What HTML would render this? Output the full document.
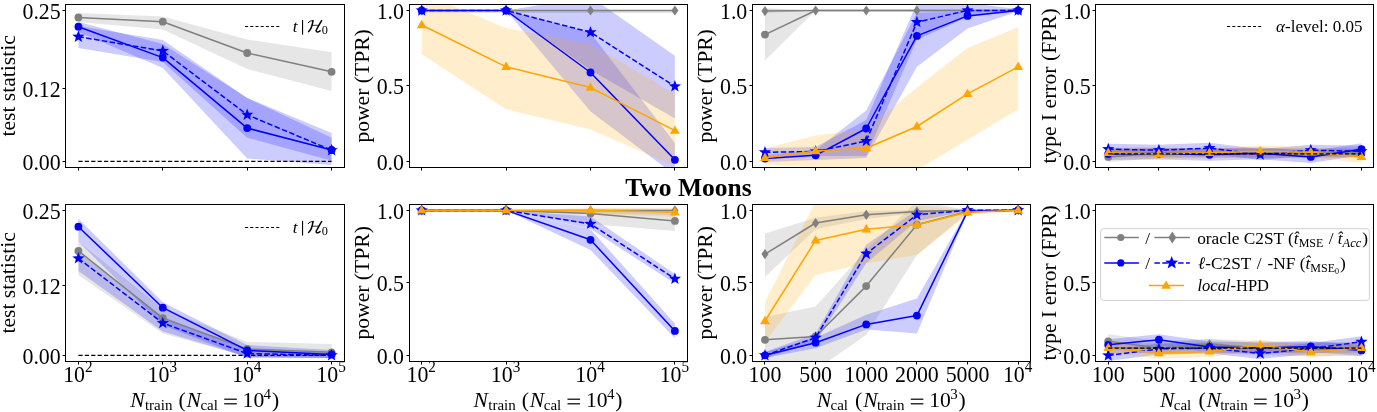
<!DOCTYPE html><html><head><meta charset="utf-8"><style>html,body{margin:0;padding:0;background:#fff;}svg{display:block;will-change:transform;} text{font-family:"Liberation Serif",serif;fill:#000;}</style></head><body>
<svg width="1377" height="412" viewBox="0 0 1377 412">
<defs>
<clipPath id="c00"><rect x="65.75" y="4.40" width="278.50" height="163.00"/></clipPath>
<clipPath id="c01"><rect x="65.75" y="204.40" width="278.50" height="156.90"/></clipPath>
<clipPath id="c10"><rect x="409.03" y="4.40" width="278.50" height="163.00"/></clipPath>
<clipPath id="c11"><rect x="409.03" y="204.40" width="278.50" height="156.90"/></clipPath>
<clipPath id="c20"><rect x="752.31" y="4.40" width="278.50" height="163.00"/></clipPath>
<clipPath id="c21"><rect x="752.31" y="204.40" width="278.50" height="156.90"/></clipPath>
<clipPath id="c30"><rect x="1095.59" y="4.40" width="278.50" height="163.00"/></clipPath>
<clipPath id="c31"><rect x="1095.59" y="204.40" width="278.50" height="156.90"/></clipPath>
</defs>
<g clip-path="url(#c00)">
<polygon points="78.4,13.0 162.8,16.4 247.2,39.6 331.6,52.2 331.6,91.0 247.2,68.9 162.8,29.5 78.4,22.0" fill="#808080" fill-opacity="0.2"/>
<polygon points="78.4,22.0 162.8,44.0 247.2,98.0 331.6,133.0 331.6,164.9 247.2,158.6 162.8,68.0 78.4,32.0" fill="#0000ff" fill-opacity="0.2"/>
<polygon points="78.4,26.0 162.8,40.0 247.2,98.0 331.6,137.7 331.6,160.7 247.2,137.7 162.8,62.0 78.4,48.0" fill="#0000ff" fill-opacity="0.2"/>
<polyline points="78.4,17.5 162.8,21.7 247.2,53.0 331.6,71.8" fill="none" stroke="#808080" stroke-width="1.5" stroke-linejoin="round"/>
<g fill="#808080"><circle cx="78.4" cy="17.5" r="3.9"/><circle cx="162.8" cy="21.7" r="3.9"/><circle cx="247.2" cy="53.0" r="3.9"/><circle cx="331.6" cy="71.8" r="3.9"/></g>
<polyline points="78.4,26.7 162.8,57.6 247.2,128.1 331.6,150.0" fill="none" stroke="#0000ff" stroke-width="1.5" stroke-linejoin="round"/>
<g fill="#0000ff"><circle cx="78.4" cy="26.7" r="3.9"/><circle cx="162.8" cy="57.6" r="3.9"/><circle cx="247.2" cy="128.1" r="3.9"/><circle cx="331.6" cy="150.0" r="3.9"/></g>
<polyline points="78.4,36.7 162.8,50.9 247.2,114.8 331.6,150.2" fill="none" stroke="#0000ff" stroke-width="1.5" stroke-dasharray="5.5,2.4" stroke-linejoin="round"/>
<g fill="#0000ff"><polygon points="78.41,30.30 79.99,34.53 84.50,34.72 80.97,37.53 82.17,41.88 78.41,39.39 74.65,41.88 75.85,37.53 72.32,34.72 76.83,34.53"/><polygon points="162.81,44.50 164.39,48.73 168.90,48.92 165.37,51.73 166.57,56.08 162.81,53.59 159.05,56.08 160.25,51.73 156.72,48.92 161.23,48.73"/><polygon points="247.21,108.40 248.79,112.63 253.30,112.82 249.77,115.63 250.97,119.98 247.21,117.49 243.45,119.98 244.65,115.63 241.12,112.82 245.63,112.63"/><polygon points="331.61,143.80 333.19,148.03 337.70,148.22 334.17,151.03 335.37,155.38 331.61,152.89 327.85,155.38 329.05,151.03 325.52,148.22 330.03,148.03"/></g>
<line x1="78.4" y1="161.3" x2="331.6" y2="161.3" stroke="#000" stroke-width="1.3" stroke-dasharray="4.2,2.2"/>
</g>
<g clip-path="url(#c10)">
<polygon points="421.7,10.5 506.1,10.5 590.5,10.5 674.9,10.5 674.9,13.0 590.5,13.0 506.1,13.0 421.7,13.0" fill="#808080" fill-opacity="0.2"/>
<polygon points="421.7,10.5 506.1,10.5 590.5,33.0 674.9,143.0 674.9,175.0 590.5,111.6 506.1,10.5 421.7,10.5" fill="#0000ff" fill-opacity="0.2"/>
<polygon points="421.7,10.5 506.1,10.5 590.5,-3.4 674.9,55.8 674.9,118.6 590.5,70.0 506.1,10.5 421.7,10.5" fill="#0000ff" fill-opacity="0.2"/>
<polygon points="421.7,-7.1 506.1,28.2 590.5,44.0 674.9,94.0 674.9,166.0 590.5,129.4 506.1,109.3 421.7,54.3" fill="#ffa500" fill-opacity="0.2"/>
<polyline points="421.7,10.5 506.1,10.5 590.5,10.5 674.9,10.5" fill="none" stroke="#808080" stroke-width="1.5" stroke-linejoin="round"/>
<g fill="#808080"><polygon points="421.69,5.40 425.29,10.50 421.69,15.60 418.09,10.50"/><polygon points="506.09,5.40 509.69,10.50 506.09,15.60 502.49,10.50"/><polygon points="590.49,5.40 594.09,10.50 590.49,15.60 586.89,10.50"/><polygon points="674.89,5.40 678.49,10.50 674.89,15.60 671.29,10.50"/></g>
<polyline points="421.7,10.5 506.1,10.5 590.5,72.5 674.9,159.8" fill="none" stroke="#0000ff" stroke-width="1.5" stroke-linejoin="round"/>
<g fill="#0000ff"><circle cx="421.7" cy="10.5" r="3.9"/><circle cx="506.1" cy="10.5" r="3.9"/><circle cx="590.5" cy="72.5" r="3.9"/><circle cx="674.9" cy="159.8" r="3.9"/></g>
<polyline points="421.7,10.5 506.1,10.5 590.5,32.3 674.9,86.4" fill="none" stroke="#0000ff" stroke-width="1.5" stroke-dasharray="5.5,2.4" stroke-linejoin="round"/>
<g fill="#0000ff"><polygon points="421.69,4.10 423.27,8.33 427.78,8.52 424.25,11.33 425.45,15.68 421.69,13.19 417.93,15.68 419.13,11.33 415.60,8.52 420.11,8.33"/><polygon points="506.09,4.10 507.67,8.33 512.18,8.52 508.65,11.33 509.85,15.68 506.09,13.19 502.33,15.68 503.53,11.33 500.00,8.52 504.51,8.33"/><polygon points="590.49,25.90 592.07,30.13 596.58,30.32 593.05,33.13 594.25,37.48 590.49,34.99 586.73,37.48 587.93,33.13 584.40,30.32 588.91,30.13"/><polygon points="674.89,80.00 676.47,84.23 680.98,84.42 677.45,87.23 678.65,91.58 674.89,89.09 671.13,91.58 672.33,87.23 668.80,84.42 673.31,84.23"/></g>
<polyline points="421.7,25.0 506.1,66.8 590.5,87.6 674.9,130.6" fill="none" stroke="#ffa500" stroke-width="1.5" stroke-linejoin="round"/>
<g fill="#ffa500"><polygon points="421.69,19.80 426.63,28.22 416.75,28.22"/><polygon points="506.09,61.60 511.03,70.02 501.15,70.02"/><polygon points="590.49,82.40 595.43,90.82 585.55,90.82"/><polygon points="674.89,125.40 679.83,133.82 669.95,133.82"/></g>
</g>
<g clip-path="url(#c20)">
<polygon points="765.0,8.3 815.6,10.5 866.2,10.5 916.9,10.5 967.5,10.5 1018.2,10.5 1018.2,10.5 967.5,10.5 916.9,10.5 866.2,10.5 815.6,10.5 765.0,60.5" fill="#808080" fill-opacity="0.2"/>
<polygon points="765.0,9.0 815.6,10.5 866.2,10.5 916.9,10.5 967.5,10.5 1018.2,10.5 1018.2,10.5 967.5,10.5 916.9,10.5 866.2,10.5 815.6,10.5 765.0,13.0" fill="#808080" fill-opacity="0.2"/>
<polygon points="765.0,155.0 815.6,150.0 866.2,110.6 916.9,12.8 967.5,11.4 1018.2,9.0 1018.2,11.5 967.5,28.4 916.9,66.7 866.2,158.0 815.6,160.0 765.0,162.0" fill="#0000ff" fill-opacity="0.2"/>
<polygon points="765.0,148.0 815.6,147.0 866.2,120.0 916.9,3.0 967.5,3.0 1018.2,9.0 1018.2,11.5 967.5,17.0 916.9,39.7 866.2,156.0 815.6,156.0 765.0,157.0" fill="#0000ff" fill-opacity="0.2"/>
<polygon points="765.0,148.2 815.6,135.6 866.2,129.4 916.9,87.6 967.5,48.0 1018.2,27.1 1018.2,109.3 967.5,139.8 916.9,170.0 866.2,170.0 815.6,167.0 765.0,164.9" fill="#ffa500" fill-opacity="0.2"/>
<polyline points="765.0,34.6 815.6,10.5 866.2,10.5 916.9,10.5 967.5,10.5 1018.2,10.5" fill="none" stroke="#808080" stroke-width="1.5" stroke-linejoin="round"/>
<g fill="#808080"><circle cx="765.0" cy="34.6" r="3.9"/></g>
<polyline points="765.0,11.1 815.6,10.5 866.2,10.5 916.9,10.5 967.5,10.5 1018.2,10.5" fill="none" stroke="#808080" stroke-width="1.5" stroke-linejoin="round"/>
<g fill="#808080"><polygon points="764.97,6.00 768.57,11.10 764.97,16.20 761.37,11.10"/><polygon points="815.61,5.40 819.21,10.50 815.61,15.60 812.01,10.50"/><polygon points="866.25,5.40 869.85,10.50 866.25,15.60 862.65,10.50"/><polygon points="916.89,5.40 920.49,10.50 916.89,15.60 913.29,10.50"/><polygon points="967.53,5.40 971.13,10.50 967.53,15.60 963.93,10.50"/><polygon points="1018.17,5.40 1021.77,10.50 1018.17,15.60 1014.57,10.50"/></g>
<polyline points="765.0,158.6 815.6,155.3 866.2,128.5 916.9,35.9 967.5,15.9 1018.2,10.5" fill="none" stroke="#0000ff" stroke-width="1.5" stroke-linejoin="round"/>
<g fill="#0000ff"><circle cx="765.0" cy="158.6" r="3.9"/><circle cx="815.6" cy="155.3" r="3.9"/><circle cx="866.2" cy="128.5" r="3.9"/><circle cx="916.9" cy="35.9" r="3.9"/><circle cx="967.5" cy="15.9" r="3.9"/><circle cx="1018.2" cy="10.5" r="3.9"/></g>
<polyline points="765.0,152.3 815.6,151.5 866.2,141.1 916.9,22.1 967.5,10.5 1018.2,10.5" fill="none" stroke="#0000ff" stroke-width="1.5" stroke-dasharray="5.5,2.4" stroke-linejoin="round"/>
<g fill="#0000ff"><polygon points="764.97,145.90 766.55,150.13 771.06,150.32 767.53,153.13 768.73,157.48 764.97,154.99 761.21,157.48 762.41,153.13 758.88,150.32 763.39,150.13"/><polygon points="815.61,145.10 817.19,149.33 821.70,149.52 818.17,152.33 819.37,156.68 815.61,154.19 811.85,156.68 813.05,152.33 809.52,149.52 814.03,149.33"/><polygon points="866.25,134.70 867.83,138.93 872.34,139.12 868.81,141.93 870.01,146.28 866.25,143.79 862.49,146.28 863.69,141.93 860.16,139.12 864.67,138.93"/><polygon points="916.89,15.70 918.47,19.93 922.98,20.12 919.45,22.93 920.65,27.28 916.89,24.79 913.13,27.28 914.33,22.93 910.80,20.12 915.31,19.93"/><polygon points="967.53,4.10 969.11,8.33 973.62,8.52 970.09,11.33 971.29,15.68 967.53,13.19 963.77,15.68 964.97,11.33 961.44,8.52 965.95,8.33"/><polygon points="1018.17,4.10 1019.75,8.33 1024.26,8.52 1020.73,11.33 1021.93,15.68 1018.17,13.19 1014.41,15.68 1015.61,11.33 1012.08,8.52 1016.59,8.33"/></g>
<polyline points="765.0,157.8 815.6,151.1 866.2,148.2 916.9,126.5 967.5,93.9 1018.2,66.8" fill="none" stroke="#ffa500" stroke-width="1.5" stroke-linejoin="round"/>
<g fill="#ffa500"><polygon points="764.97,152.60 769.91,161.02 760.03,161.02"/><polygon points="815.61,145.90 820.55,154.32 810.67,154.32"/><polygon points="866.25,143.00 871.19,151.42 861.31,151.42"/><polygon points="916.89,121.30 921.83,129.72 911.95,129.72"/><polygon points="967.53,88.70 972.47,97.12 962.59,97.12"/><polygon points="1018.17,61.60 1023.11,70.02 1013.23,70.02"/></g>
</g>
<g clip-path="url(#c30)">
<polygon points="1108.2,150.0 1158.9,148.0 1209.5,148.0 1260.2,148.0 1310.8,148.0 1361.5,148.0 1361.5,158.0 1310.8,158.0 1260.2,158.0 1209.5,158.0 1158.9,158.0 1108.2,162.0" fill="#808080" fill-opacity="0.2"/>
<polygon points="1108.2,149.0 1158.9,149.0 1209.5,149.0 1260.2,149.0 1310.8,149.0 1361.5,149.0 1361.5,157.0 1310.8,157.0 1260.2,157.0 1209.5,157.0 1158.9,157.0 1108.2,157.0" fill="#808080" fill-opacity="0.2"/>
<polygon points="1108.2,148.0 1158.9,147.5 1209.5,148.8 1260.2,147.3 1310.8,150.9 1361.5,143.2 1361.5,155.2 1310.8,162.9 1260.2,159.3 1209.5,160.8 1158.9,159.5 1108.2,160.0" fill="#0000ff" fill-opacity="0.2"/>
<polygon points="1108.2,143.7 1158.9,144.7 1209.5,142.7 1260.2,149.0 1310.8,144.7 1361.5,145.8 1361.5,156.8 1310.8,155.7 1260.2,160.0 1209.5,153.7 1158.9,155.7 1108.2,154.7" fill="#0000ff" fill-opacity="0.2"/>
<polygon points="1108.2,147.3 1158.9,148.3 1209.5,147.3 1260.2,145.8 1310.8,146.8 1361.5,151.4 1361.5,162.4 1310.8,157.8 1260.2,156.8 1209.5,158.3 1158.9,159.3 1108.2,158.3" fill="#ffa500" fill-opacity="0.2"/>
<polyline points="1108.2,156.9 1158.9,153.0 1209.5,153.0 1260.2,153.0 1310.8,153.0 1361.5,153.0" fill="none" stroke="#808080" stroke-width="1.5" stroke-linejoin="round"/>
<g fill="#808080"><circle cx="1108.2" cy="156.9" r="3.9"/><circle cx="1158.9" cy="153.0" r="3.9"/><circle cx="1209.5" cy="153.0" r="3.9"/><circle cx="1260.2" cy="153.0" r="3.9"/><circle cx="1310.8" cy="153.0" r="3.9"/><circle cx="1361.5" cy="153.0" r="3.9"/></g>
<polyline points="1108.2,153.0 1158.9,153.0 1209.5,153.0 1260.2,153.0 1310.8,153.0 1361.5,153.0" fill="none" stroke="#808080" stroke-width="1.5" stroke-linejoin="round"/>
<g fill="#808080"><polygon points="1108.25,147.90 1111.85,153.00 1108.25,158.10 1104.65,153.00"/><polygon points="1158.89,147.90 1162.49,153.00 1158.89,158.10 1155.29,153.00"/><polygon points="1209.53,147.90 1213.13,153.00 1209.53,158.10 1205.93,153.00"/><polygon points="1260.17,147.90 1263.77,153.00 1260.17,158.10 1256.57,153.00"/><polygon points="1310.81,147.90 1314.41,153.00 1310.81,158.10 1307.21,153.00"/><polygon points="1361.45,147.90 1365.05,153.00 1361.45,158.10 1357.85,153.00"/></g>
<polyline points="1108.2,154.0 1158.9,153.5 1209.5,154.8 1260.2,153.3 1310.8,156.9 1361.5,149.2" fill="none" stroke="#0000ff" stroke-width="1.5" stroke-linejoin="round"/>
<g fill="#0000ff"><circle cx="1108.2" cy="154.0" r="3.9"/><circle cx="1158.9" cy="153.5" r="3.9"/><circle cx="1209.5" cy="154.8" r="3.9"/><circle cx="1260.2" cy="153.3" r="3.9"/><circle cx="1310.8" cy="156.9" r="3.9"/><circle cx="1361.5" cy="149.2" r="3.9"/></g>
<polyline points="1108.2,149.2 1158.9,150.2 1209.5,148.2 1260.2,154.5 1310.8,150.2 1361.5,151.3" fill="none" stroke="#0000ff" stroke-width="1.5" stroke-dasharray="5.5,2.4" stroke-linejoin="round"/>
<g fill="#0000ff"><polygon points="1108.25,142.80 1109.83,147.03 1114.34,147.22 1110.81,150.03 1112.01,154.38 1108.25,151.89 1104.49,154.38 1105.69,150.03 1102.16,147.22 1106.67,147.03"/><polygon points="1158.89,143.80 1160.47,148.03 1164.98,148.22 1161.45,151.03 1162.65,155.38 1158.89,152.89 1155.13,155.38 1156.33,151.03 1152.80,148.22 1157.31,148.03"/><polygon points="1209.53,141.80 1211.11,146.03 1215.62,146.22 1212.09,149.03 1213.29,153.38 1209.53,150.89 1205.77,153.38 1206.97,149.03 1203.44,146.22 1207.95,146.03"/><polygon points="1260.17,148.10 1261.75,152.33 1266.26,152.52 1262.73,155.33 1263.93,159.68 1260.17,157.19 1256.41,159.68 1257.61,155.33 1254.08,152.52 1258.59,152.33"/><polygon points="1310.81,143.80 1312.39,148.03 1316.90,148.22 1313.37,151.03 1314.57,155.38 1310.81,152.89 1307.05,155.38 1308.25,151.03 1304.72,148.22 1309.23,148.03"/><polygon points="1361.45,144.90 1363.03,149.13 1367.54,149.32 1364.01,152.13 1365.21,156.48 1361.45,153.99 1357.69,156.48 1358.89,152.13 1355.36,149.32 1359.87,149.13"/></g>
<polyline points="1108.2,152.8 1158.9,153.8 1209.5,152.8 1260.2,151.3 1310.8,152.3 1361.5,156.9" fill="none" stroke="#ffa500" stroke-width="1.5" stroke-linejoin="round"/>
<g fill="#ffa500"><polygon points="1108.25,147.60 1113.19,156.02 1103.31,156.02"/><polygon points="1158.89,148.60 1163.83,157.02 1153.95,157.02"/><polygon points="1209.53,147.60 1214.47,156.02 1204.59,156.02"/><polygon points="1260.17,146.10 1265.11,154.52 1255.23,154.52"/><polygon points="1310.81,147.10 1315.75,155.52 1305.87,155.52"/><polygon points="1361.45,151.70 1366.39,160.12 1356.51,160.12"/></g>
<line x1="1108.2" y1="153.8" x2="1361.5" y2="153.8" stroke="#000" stroke-width="1.3" stroke-dasharray="4.2,2.2"/>
</g>
<g clip-path="url(#c01)">
<polygon points="78.4,241.7 162.8,308.5 247.2,341.9 331.6,344.0 331.6,358.6 247.2,356.5 162.8,333.6 78.4,275.1" fill="#808080" fill-opacity="0.2"/>
<polygon points="78.4,218.8 162.8,302.3 247.2,345.0 331.6,350.0 331.6,358.0 247.2,358.0 162.8,325.2 78.4,241.7" fill="#0000ff" fill-opacity="0.2"/>
<polygon points="78.4,252.2 162.8,316.9 247.2,350.0 331.6,352.0 331.6,358.0 247.2,357.0 162.8,331.5 78.4,271.0" fill="#0000ff" fill-opacity="0.2"/>
<polyline points="78.4,250.9 162.8,318.1 247.2,349.0 331.6,352.3" fill="none" stroke="#808080" stroke-width="1.5" stroke-linejoin="round"/>
<g fill="#808080"><circle cx="78.4" cy="250.9" r="3.9"/><circle cx="162.8" cy="318.1" r="3.9"/><circle cx="247.2" cy="349.0" r="3.9"/><circle cx="331.6" cy="352.3" r="3.9"/></g>
<polyline points="78.4,226.7 162.8,307.7 247.2,350.3 331.6,354.4" fill="none" stroke="#0000ff" stroke-width="1.5" stroke-linejoin="round"/>
<g fill="#0000ff"><circle cx="78.4" cy="226.7" r="3.9"/><circle cx="162.8" cy="307.7" r="3.9"/><circle cx="247.2" cy="350.3" r="3.9"/><circle cx="331.6" cy="354.4" r="3.9"/></g>
<polyline points="78.4,258.4 162.8,323.1 247.2,353.6 331.6,355.3" fill="none" stroke="#0000ff" stroke-width="1.5" stroke-dasharray="5.5,2.4" stroke-linejoin="round"/>
<g fill="#0000ff"><polygon points="78.41,252.00 79.99,256.23 84.50,256.42 80.97,259.23 82.17,263.58 78.41,261.09 74.65,263.58 75.85,259.23 72.32,256.42 76.83,256.23"/><polygon points="162.81,316.70 164.39,320.93 168.90,321.12 165.37,323.93 166.57,328.28 162.81,325.79 159.05,328.28 160.25,323.93 156.72,321.12 161.23,320.93"/><polygon points="247.21,347.20 248.79,351.43 253.30,351.62 249.77,354.43 250.97,358.78 247.21,356.29 243.45,358.78 244.65,354.43 241.12,351.62 245.63,351.43"/><polygon points="331.61,348.90 333.19,353.13 337.70,353.32 334.17,356.13 335.37,360.48 331.61,357.99 327.85,360.48 329.05,356.13 325.52,353.32 330.03,353.13"/></g>
<line x1="78.4" y1="355.4" x2="331.6" y2="355.4" stroke="#000" stroke-width="1.3" stroke-dasharray="4.2,2.2"/>
</g>
<g clip-path="url(#c11)">
<polygon points="421.7,210.4 506.1,210.4 590.5,210.2 674.9,213.5 674.9,230.9 590.5,223.9 506.1,210.4 421.7,210.4" fill="#808080" fill-opacity="0.2"/>
<polygon points="421.7,210.4 506.1,210.4 590.5,209.0 674.9,209.0 674.9,215.0 590.5,213.0 506.1,210.4 421.7,210.4" fill="#808080" fill-opacity="0.2"/>
<polygon points="421.7,210.4 506.1,210.4 590.5,229.3 674.9,323.7 674.9,338.3 590.5,250.0 506.1,210.4 421.7,210.4" fill="#0000ff" fill-opacity="0.2"/>
<polygon points="421.7,210.4 506.1,210.4 590.5,216.5 674.9,274.0 674.9,283.5 590.5,229.0 506.1,210.4 421.7,210.4" fill="#0000ff" fill-opacity="0.2"/>
<polygon points="421.7,210.4 506.1,210.4 590.5,208.0 674.9,208.0 674.9,217.0 590.5,214.0 506.1,210.4 421.7,210.4" fill="#ffa500" fill-opacity="0.2"/>
<polyline points="421.7,210.4 506.1,210.4 590.5,213.5 674.9,220.9" fill="none" stroke="#808080" stroke-width="1.5" stroke-linejoin="round"/>
<g fill="#808080"><circle cx="421.7" cy="210.4" r="3.9"/><circle cx="506.1" cy="210.4" r="3.9"/><circle cx="590.5" cy="213.5" r="3.9"/><circle cx="674.9" cy="220.9" r="3.9"/></g>
<polyline points="421.7,210.4 506.1,210.4 590.5,210.4 674.9,210.4" fill="none" stroke="#808080" stroke-width="1.5" stroke-linejoin="round"/>
<g fill="#808080"><polygon points="421.69,205.30 425.29,210.40 421.69,215.50 418.09,210.40"/><polygon points="506.09,205.30 509.69,210.40 506.09,215.50 502.49,210.40"/><polygon points="590.49,205.30 594.09,210.40 590.49,215.50 586.89,210.40"/><polygon points="674.89,205.30 678.49,210.40 674.89,215.50 671.29,210.40"/></g>
<polyline points="421.7,210.4 506.1,210.4 590.5,239.8 674.9,330.9" fill="none" stroke="#0000ff" stroke-width="1.5" stroke-linejoin="round"/>
<g fill="#0000ff"><circle cx="421.7" cy="210.4" r="3.9"/><circle cx="506.1" cy="210.4" r="3.9"/><circle cx="590.5" cy="239.8" r="3.9"/><circle cx="674.9" cy="330.9" r="3.9"/></g>
<polyline points="421.7,210.4 506.1,210.4 590.5,223.9 674.9,278.8" fill="none" stroke="#0000ff" stroke-width="1.5" stroke-dasharray="5.5,2.4" stroke-linejoin="round"/>
<g fill="#0000ff"><polygon points="421.69,204.00 423.27,208.23 427.78,208.42 424.25,211.23 425.45,215.58 421.69,213.09 417.93,215.58 419.13,211.23 415.60,208.42 420.11,208.23"/><polygon points="506.09,204.00 507.67,208.23 512.18,208.42 508.65,211.23 509.85,215.58 506.09,213.09 502.33,215.58 503.53,211.23 500.00,208.42 504.51,208.23"/><polygon points="590.49,217.50 592.07,221.73 596.58,221.92 593.05,224.73 594.25,229.08 590.49,226.59 586.73,229.08 587.93,224.73 584.40,221.92 588.91,221.73"/><polygon points="674.89,272.40 676.47,276.63 680.98,276.82 677.45,279.63 678.65,283.98 674.89,281.49 671.13,283.98 672.33,279.63 668.80,276.82 673.31,276.63"/></g>
<polyline points="421.7,210.4 506.1,210.4 590.5,210.2 674.9,212.3" fill="none" stroke="#ffa500" stroke-width="1.5" stroke-linejoin="round"/>
<g fill="#ffa500"><polygon points="421.69,205.20 426.63,213.62 416.75,213.62"/><polygon points="506.09,205.20 511.03,213.62 501.15,213.62"/><polygon points="590.49,205.00 595.43,213.42 585.55,213.42"/><polygon points="674.89,207.10 679.83,215.52 669.95,215.52"/></g>
</g>
<g clip-path="url(#c21)">
<polygon points="765.0,316.9 815.6,306.4 866.2,250.0 916.9,201.1 967.5,210.0 1018.2,210.0 1018.2,211.0 967.5,213.0 916.9,255.0 866.2,335.0 815.6,370.0 765.0,370.0" fill="#808080" fill-opacity="0.2"/>
<polygon points="765.0,233.4 815.6,217.7 866.2,211.0 916.9,210.0 967.5,210.0 1018.2,210.0 1018.2,211.0 967.5,211.0 916.9,213.0 866.2,218.9 815.6,229.3 765.0,276.9" fill="#808080" fill-opacity="0.2"/>
<polygon points="765.0,352.0 815.6,337.7 866.2,314.8 916.9,298.5 967.5,210.0 1018.2,210.0 1018.2,211.0 967.5,213.0 916.9,333.6 866.2,329.4 815.6,348.2 765.0,358.0" fill="#0000ff" fill-opacity="0.2"/>
<polygon points="765.0,352.0 815.6,333.6 866.2,244.6 916.9,210.0 967.5,210.0 1018.2,210.0 1018.2,211.0 967.5,211.0 916.9,220.9 866.2,263.2 815.6,341.9 765.0,358.0" fill="#0000ff" fill-opacity="0.2"/>
<polygon points="765.0,302.3 815.6,201.1 866.2,201.1 916.9,206.0 967.5,210.0 1018.2,210.0 1018.2,211.0 967.5,215.0 916.9,255.0 866.2,263.2 815.6,274.9 765.0,341.9" fill="#ffa500" fill-opacity="0.2"/>
<polyline points="765.0,339.8 815.6,336.5 866.2,286.1 916.9,224.7 967.5,211.4 1018.2,210.2" fill="none" stroke="#808080" stroke-width="1.5" stroke-linejoin="round"/>
<g fill="#808080"><circle cx="765.0" cy="339.8" r="3.9"/><circle cx="815.6" cy="336.5" r="3.9"/><circle cx="866.2" cy="286.1" r="3.9"/><circle cx="916.9" cy="224.7" r="3.9"/><circle cx="967.5" cy="211.4" r="3.9"/><circle cx="1018.2" cy="210.2" r="3.9"/></g>
<polyline points="765.0,254.1 815.6,223.0 866.2,214.8 916.9,211.4 967.5,210.2 1018.2,210.2" fill="none" stroke="#808080" stroke-width="1.5" stroke-linejoin="round"/>
<g fill="#808080"><polygon points="764.97,249.00 768.57,254.10 764.97,259.20 761.37,254.10"/><polygon points="815.61,217.90 819.21,223.00 815.61,228.10 812.01,223.00"/><polygon points="866.25,209.70 869.85,214.80 866.25,219.90 862.65,214.80"/><polygon points="916.89,206.30 920.49,211.40 916.89,216.50 913.29,211.40"/><polygon points="967.53,205.10 971.13,210.20 967.53,215.30 963.93,210.20"/><polygon points="1018.17,205.10 1021.77,210.20 1018.17,215.30 1014.57,210.20"/></g>
<polyline points="765.0,355.3 815.6,342.7 866.2,324.4 916.9,315.6 967.5,211.4 1018.2,210.2" fill="none" stroke="#0000ff" stroke-width="1.5" stroke-linejoin="round"/>
<g fill="#0000ff"><circle cx="765.0" cy="355.3" r="3.9"/><circle cx="815.6" cy="342.7" r="3.9"/><circle cx="866.2" cy="324.4" r="3.9"/><circle cx="916.9" cy="315.6" r="3.9"/><circle cx="967.5" cy="211.4" r="3.9"/><circle cx="1018.2" cy="210.2" r="3.9"/></g>
<polyline points="765.0,355.3 815.6,337.7 866.2,253.7 916.9,214.8 967.5,210.2 1018.2,210.2" fill="none" stroke="#0000ff" stroke-width="1.5" stroke-dasharray="5.5,2.4" stroke-linejoin="round"/>
<g fill="#0000ff"><polygon points="764.97,348.90 766.55,353.13 771.06,353.32 767.53,356.13 768.73,360.48 764.97,357.99 761.21,360.48 762.41,356.13 758.88,353.32 763.39,353.13"/><polygon points="815.61,331.30 817.19,335.53 821.70,335.72 818.17,338.53 819.37,342.88 815.61,340.39 811.85,342.88 813.05,338.53 809.52,335.72 814.03,335.53"/><polygon points="866.25,247.30 867.83,251.53 872.34,251.72 868.81,254.53 870.01,258.88 866.25,256.39 862.49,258.88 863.69,254.53 860.16,251.72 864.67,251.53"/><polygon points="916.89,208.40 918.47,212.63 922.98,212.82 919.45,215.63 920.65,219.98 916.89,217.49 913.13,219.98 914.33,215.63 910.80,212.82 915.31,212.63"/><polygon points="967.53,203.80 969.11,208.03 973.62,208.22 970.09,211.03 971.29,215.38 967.53,212.89 963.77,215.38 964.97,211.03 961.44,208.22 965.95,208.03"/><polygon points="1018.17,203.80 1019.75,208.03 1024.26,208.22 1020.73,211.03 1021.93,215.38 1018.17,212.89 1014.41,215.38 1015.61,211.03 1012.08,208.22 1016.59,208.03"/></g>
<polyline points="765.0,321.0 815.6,240.4 866.2,229.3 916.9,224.7 967.5,212.3 1018.2,210.2" fill="none" stroke="#ffa500" stroke-width="1.5" stroke-linejoin="round"/>
<g fill="#ffa500"><polygon points="764.97,315.80 769.91,324.22 760.03,324.22"/><polygon points="815.61,235.20 820.55,243.62 810.67,243.62"/><polygon points="866.25,224.10 871.19,232.52 861.31,232.52"/><polygon points="916.89,219.50 921.83,227.92 911.95,227.92"/><polygon points="967.53,207.10 972.47,215.52 962.59,215.52"/><polygon points="1018.17,205.00 1023.11,213.42 1013.23,213.42"/></g>
</g>
<g clip-path="url(#c31)">
<polygon points="1108.2,334.3 1158.9,341.0 1209.5,339.0 1260.2,341.0 1310.8,342.0 1361.5,342.0 1361.5,356.0 1310.8,356.0 1260.2,355.0 1209.5,353.0 1158.9,355.0 1108.2,348.3" fill="#808080" fill-opacity="0.2"/>
<polygon points="1108.2,343.0 1158.9,343.0 1209.5,339.3 1260.2,343.0 1310.8,343.0 1361.5,343.0 1361.5,353.0 1310.8,353.0 1260.2,353.0 1209.5,349.3 1158.9,353.0 1108.2,353.0" fill="#808080" fill-opacity="0.2"/>
<polygon points="1108.2,339.3 1158.9,334.2 1209.5,341.4 1260.2,342.5 1310.8,341.0 1361.5,344.9 1361.5,355.9 1310.8,352.0 1260.2,353.5 1209.5,352.4 1158.9,345.2 1108.2,350.3" fill="#0000ff" fill-opacity="0.2"/>
<polygon points="1108.2,350.0 1158.9,343.4 1209.5,342.5 1260.2,348.0 1310.8,343.0 1361.5,336.3 1361.5,347.3 1310.8,354.0 1260.2,359.0 1209.5,353.5 1158.9,354.4 1108.2,361.0" fill="#0000ff" fill-opacity="0.2"/>
<polygon points="1108.2,342.4 1158.9,347.5 1209.5,345.9 1260.2,339.8 1310.8,346.5 1361.5,342.4 1361.5,353.4 1310.8,357.5 1260.2,350.8 1209.5,356.9 1158.9,358.5 1108.2,353.4" fill="#ffa500" fill-opacity="0.2"/>
<polyline points="1108.2,341.3 1158.9,348.0 1209.5,346.0 1260.2,348.0 1310.8,349.0 1361.5,349.0" fill="none" stroke="#808080" stroke-width="1.5" stroke-linejoin="round"/>
<g fill="#808080"><circle cx="1108.2" cy="341.3" r="3.9"/><circle cx="1158.9" cy="348.0" r="3.9"/><circle cx="1209.5" cy="346.0" r="3.9"/><circle cx="1260.2" cy="348.0" r="3.9"/><circle cx="1310.8" cy="349.0" r="3.9"/><circle cx="1361.5" cy="349.0" r="3.9"/></g>
<polyline points="1108.2,348.0 1158.9,348.0 1209.5,344.3 1260.2,348.0 1310.8,348.0 1361.5,348.0" fill="none" stroke="#808080" stroke-width="1.5" stroke-linejoin="round"/>
<g fill="#808080"><polygon points="1108.25,342.90 1111.85,348.00 1108.25,353.10 1104.65,348.00"/><polygon points="1158.89,342.90 1162.49,348.00 1158.89,353.10 1155.29,348.00"/><polygon points="1209.53,339.20 1213.13,344.30 1209.53,349.40 1205.93,344.30"/><polygon points="1260.17,342.90 1263.77,348.00 1260.17,353.10 1256.57,348.00"/><polygon points="1310.81,342.90 1314.41,348.00 1310.81,353.10 1307.21,348.00"/><polygon points="1361.45,342.90 1365.05,348.00 1361.45,353.10 1357.85,348.00"/></g>
<polyline points="1108.2,344.8 1158.9,339.7 1209.5,346.9 1260.2,348.0 1310.8,346.5 1361.5,350.4" fill="none" stroke="#0000ff" stroke-width="1.5" stroke-linejoin="round"/>
<g fill="#0000ff"><circle cx="1108.2" cy="344.8" r="3.9"/><circle cx="1158.9" cy="339.7" r="3.9"/><circle cx="1209.5" cy="346.9" r="3.9"/><circle cx="1260.2" cy="348.0" r="3.9"/><circle cx="1310.8" cy="346.5" r="3.9"/><circle cx="1361.5" cy="350.4" r="3.9"/></g>
<polyline points="1108.2,355.5 1158.9,348.9 1209.5,348.0 1260.2,353.5 1310.8,348.5 1361.5,341.8" fill="none" stroke="#0000ff" stroke-width="1.5" stroke-dasharray="5.5,2.4" stroke-linejoin="round"/>
<g fill="#0000ff"><polygon points="1108.25,349.10 1109.83,353.33 1114.34,353.52 1110.81,356.33 1112.01,360.68 1108.25,358.19 1104.49,360.68 1105.69,356.33 1102.16,353.52 1106.67,353.33"/><polygon points="1158.89,342.50 1160.47,346.73 1164.98,346.92 1161.45,349.73 1162.65,354.08 1158.89,351.59 1155.13,354.08 1156.33,349.73 1152.80,346.92 1157.31,346.73"/><polygon points="1209.53,341.60 1211.11,345.83 1215.62,346.02 1212.09,348.83 1213.29,353.18 1209.53,350.69 1205.77,353.18 1206.97,348.83 1203.44,346.02 1207.95,345.83"/><polygon points="1260.17,347.10 1261.75,351.33 1266.26,351.52 1262.73,354.33 1263.93,358.68 1260.17,356.19 1256.41,358.68 1257.61,354.33 1254.08,351.52 1258.59,351.33"/><polygon points="1310.81,342.10 1312.39,346.33 1316.90,346.52 1313.37,349.33 1314.57,353.68 1310.81,351.19 1307.05,353.68 1308.25,349.33 1304.72,346.52 1309.23,346.33"/><polygon points="1361.45,335.40 1363.03,339.63 1367.54,339.82 1364.01,342.63 1365.21,346.98 1361.45,344.49 1357.69,346.98 1358.89,342.63 1355.36,339.82 1359.87,339.63"/></g>
<polyline points="1108.2,347.9 1158.9,353.0 1209.5,351.4 1260.2,345.3 1310.8,352.0 1361.5,347.9" fill="none" stroke="#ffa500" stroke-width="1.5" stroke-linejoin="round"/>
<g fill="#ffa500"><polygon points="1108.25,342.70 1113.19,351.12 1103.31,351.12"/><polygon points="1158.89,347.80 1163.83,356.22 1153.95,356.22"/><polygon points="1209.53,346.20 1214.47,354.62 1204.59,354.62"/><polygon points="1260.17,340.10 1265.11,348.52 1255.23,348.52"/><polygon points="1310.81,346.80 1315.75,355.22 1305.87,355.22"/><polygon points="1361.45,342.70 1366.39,351.12 1356.51,351.12"/></g>
<line x1="1108.2" y1="348.1" x2="1361.5" y2="348.1" stroke="#000" stroke-width="1.3" stroke-dasharray="4.2,2.2"/>
</g>
<rect x="65.50" y="4.50" width="279.00" height="163.00" fill="none" stroke="#000" stroke-width="1"/>
<line x1="62.50" y1="161.50" x2="65.50" y2="161.50" stroke="#000" stroke-width="1"/>
<text transform="translate(60.75,169.55) scale(1,1.08)" font-size="21.9" text-anchor="end">0.00</text>
<line x1="62.50" y1="88.50" x2="65.50" y2="88.50" stroke="#000" stroke-width="1"/>
<text transform="translate(60.75,97.14) scale(1,1.08)" font-size="21.9" text-anchor="end">0.12</text>
<line x1="62.50" y1="10.50" x2="65.50" y2="10.50" stroke="#000" stroke-width="1"/>
<text transform="translate(60.75,18.70) scale(1,1.08)" font-size="21.9" text-anchor="end">0.25</text>
<line x1="78.50" y1="167.50" x2="78.50" y2="170.50" stroke="#000" stroke-width="1"/>
<line x1="162.50" y1="167.50" x2="162.50" y2="170.50" stroke="#000" stroke-width="1"/>
<line x1="247.50" y1="167.50" x2="247.50" y2="170.50" stroke="#000" stroke-width="1"/>
<line x1="331.50" y1="167.50" x2="331.50" y2="170.50" stroke="#000" stroke-width="1"/>
<text transform="translate(15.45,85.90) rotate(-90)" font-size="21.6" text-anchor="middle">test statistic</text>
<rect x="409.50" y="4.50" width="278.00" height="163.00" fill="none" stroke="#000" stroke-width="1"/>
<line x1="406.50" y1="161.50" x2="409.50" y2="161.50" stroke="#000" stroke-width="1"/>
<text transform="translate(404.03,169.55) scale(1,1.08)" font-size="21.9" text-anchor="end">0.0</text>
<line x1="406.50" y1="85.50" x2="409.50" y2="85.50" stroke="#000" stroke-width="1"/>
<text transform="translate(404.03,94.12) scale(1,1.08)" font-size="21.9" text-anchor="end">0.5</text>
<line x1="406.50" y1="10.50" x2="409.50" y2="10.50" stroke="#000" stroke-width="1"/>
<text transform="translate(404.03,18.70) scale(1,1.08)" font-size="21.9" text-anchor="end">1.0</text>
<line x1="421.50" y1="167.50" x2="421.50" y2="170.50" stroke="#000" stroke-width="1"/>
<line x1="506.50" y1="167.50" x2="506.50" y2="170.50" stroke="#000" stroke-width="1"/>
<line x1="590.50" y1="167.50" x2="590.50" y2="170.50" stroke="#000" stroke-width="1"/>
<line x1="674.50" y1="167.50" x2="674.50" y2="170.50" stroke="#000" stroke-width="1"/>
<text transform="translate(369.03,85.90) rotate(-90)" font-size="21.6" text-anchor="middle">power (TPR)</text>
<rect x="752.50" y="4.50" width="278.00" height="163.00" fill="none" stroke="#000" stroke-width="1"/>
<line x1="749.50" y1="161.50" x2="752.50" y2="161.50" stroke="#000" stroke-width="1"/>
<text transform="translate(747.31,169.55) scale(1,1.08)" font-size="21.9" text-anchor="end">0.0</text>
<line x1="749.50" y1="85.50" x2="752.50" y2="85.50" stroke="#000" stroke-width="1"/>
<text transform="translate(747.31,94.12) scale(1,1.08)" font-size="21.9" text-anchor="end">0.5</text>
<line x1="749.50" y1="10.50" x2="752.50" y2="10.50" stroke="#000" stroke-width="1"/>
<text transform="translate(747.31,18.70) scale(1,1.08)" font-size="21.9" text-anchor="end">1.0</text>
<line x1="764.50" y1="167.50" x2="764.50" y2="170.50" stroke="#000" stroke-width="1"/>
<line x1="815.50" y1="167.50" x2="815.50" y2="170.50" stroke="#000" stroke-width="1"/>
<line x1="866.50" y1="167.50" x2="866.50" y2="170.50" stroke="#000" stroke-width="1"/>
<line x1="916.50" y1="167.50" x2="916.50" y2="170.50" stroke="#000" stroke-width="1"/>
<line x1="967.50" y1="167.50" x2="967.50" y2="170.50" stroke="#000" stroke-width="1"/>
<line x1="1018.50" y1="167.50" x2="1018.50" y2="170.50" stroke="#000" stroke-width="1"/>
<text transform="translate(712.31,85.90) rotate(-90)" font-size="21.6" text-anchor="middle">power (TPR)</text>
<rect x="1095.50" y="4.50" width="278.00" height="163.00" fill="none" stroke="#000" stroke-width="1"/>
<line x1="1092.50" y1="161.50" x2="1095.50" y2="161.50" stroke="#000" stroke-width="1"/>
<text transform="translate(1090.59,169.55) scale(1,1.08)" font-size="21.9" text-anchor="end">0.0</text>
<line x1="1092.50" y1="85.50" x2="1095.50" y2="85.50" stroke="#000" stroke-width="1"/>
<text transform="translate(1090.59,94.12) scale(1,1.08)" font-size="21.9" text-anchor="end">0.5</text>
<line x1="1092.50" y1="10.50" x2="1095.50" y2="10.50" stroke="#000" stroke-width="1"/>
<text transform="translate(1090.59,18.70) scale(1,1.08)" font-size="21.9" text-anchor="end">1.0</text>
<line x1="1108.50" y1="167.50" x2="1108.50" y2="170.50" stroke="#000" stroke-width="1"/>
<line x1="1158.50" y1="167.50" x2="1158.50" y2="170.50" stroke="#000" stroke-width="1"/>
<line x1="1209.50" y1="167.50" x2="1209.50" y2="170.50" stroke="#000" stroke-width="1"/>
<line x1="1260.50" y1="167.50" x2="1260.50" y2="170.50" stroke="#000" stroke-width="1"/>
<line x1="1310.50" y1="167.50" x2="1310.50" y2="170.50" stroke="#000" stroke-width="1"/>
<line x1="1361.50" y1="167.50" x2="1361.50" y2="170.50" stroke="#000" stroke-width="1"/>
<text transform="translate(1055.59,85.90) rotate(-90)" font-size="21.6" text-anchor="middle">type I error (FPR)</text>
<rect x="65.50" y="204.50" width="279.00" height="157.00" fill="none" stroke="#000" stroke-width="1"/>
<line x1="62.50" y1="355.50" x2="65.50" y2="355.50" stroke="#000" stroke-width="1"/>
<text transform="translate(60.75,363.60) scale(1,1.08)" font-size="21.9" text-anchor="end">0.00</text>
<line x1="62.50" y1="285.50" x2="65.50" y2="285.50" stroke="#000" stroke-width="1"/>
<text transform="translate(60.75,294.00) scale(1,1.08)" font-size="21.9" text-anchor="end">0.12</text>
<line x1="62.50" y1="210.50" x2="65.50" y2="210.50" stroke="#000" stroke-width="1"/>
<text transform="translate(60.75,218.60) scale(1,1.08)" font-size="21.9" text-anchor="end">0.25</text>
<line x1="78.50" y1="361.50" x2="78.50" y2="364.50" stroke="#000" stroke-width="1"/>
<line x1="162.50" y1="361.50" x2="162.50" y2="364.50" stroke="#000" stroke-width="1"/>
<line x1="247.50" y1="361.50" x2="247.50" y2="364.50" stroke="#000" stroke-width="1"/>
<line x1="331.50" y1="361.50" x2="331.50" y2="364.50" stroke="#000" stroke-width="1"/>
<text transform="translate(15.45,282.85) rotate(-90)" font-size="21.6" text-anchor="middle">test statistic</text>
<rect x="409.50" y="204.50" width="278.00" height="157.00" fill="none" stroke="#000" stroke-width="1"/>
<line x1="406.50" y1="355.50" x2="409.50" y2="355.50" stroke="#000" stroke-width="1"/>
<text transform="translate(404.03,363.60) scale(1,1.08)" font-size="21.9" text-anchor="end">0.0</text>
<line x1="406.50" y1="282.50" x2="409.50" y2="282.50" stroke="#000" stroke-width="1"/>
<text transform="translate(404.03,291.10) scale(1,1.08)" font-size="21.9" text-anchor="end">0.5</text>
<line x1="406.50" y1="210.50" x2="409.50" y2="210.50" stroke="#000" stroke-width="1"/>
<text transform="translate(404.03,218.60) scale(1,1.08)" font-size="21.9" text-anchor="end">1.0</text>
<line x1="421.50" y1="361.50" x2="421.50" y2="364.50" stroke="#000" stroke-width="1"/>
<line x1="506.50" y1="361.50" x2="506.50" y2="364.50" stroke="#000" stroke-width="1"/>
<line x1="590.50" y1="361.50" x2="590.50" y2="364.50" stroke="#000" stroke-width="1"/>
<line x1="674.50" y1="361.50" x2="674.50" y2="364.50" stroke="#000" stroke-width="1"/>
<text transform="translate(369.03,282.85) rotate(-90)" font-size="21.6" text-anchor="middle">power (TPR)</text>
<rect x="752.50" y="204.50" width="278.00" height="157.00" fill="none" stroke="#000" stroke-width="1"/>
<line x1="749.50" y1="355.50" x2="752.50" y2="355.50" stroke="#000" stroke-width="1"/>
<text transform="translate(747.31,363.60) scale(1,1.08)" font-size="21.9" text-anchor="end">0.0</text>
<line x1="749.50" y1="282.50" x2="752.50" y2="282.50" stroke="#000" stroke-width="1"/>
<text transform="translate(747.31,291.10) scale(1,1.08)" font-size="21.9" text-anchor="end">0.5</text>
<line x1="749.50" y1="210.50" x2="752.50" y2="210.50" stroke="#000" stroke-width="1"/>
<text transform="translate(747.31,218.60) scale(1,1.08)" font-size="21.9" text-anchor="end">1.0</text>
<line x1="764.50" y1="361.50" x2="764.50" y2="364.50" stroke="#000" stroke-width="1"/>
<line x1="815.50" y1="361.50" x2="815.50" y2="364.50" stroke="#000" stroke-width="1"/>
<line x1="866.50" y1="361.50" x2="866.50" y2="364.50" stroke="#000" stroke-width="1"/>
<line x1="916.50" y1="361.50" x2="916.50" y2="364.50" stroke="#000" stroke-width="1"/>
<line x1="967.50" y1="361.50" x2="967.50" y2="364.50" stroke="#000" stroke-width="1"/>
<line x1="1018.50" y1="361.50" x2="1018.50" y2="364.50" stroke="#000" stroke-width="1"/>
<text transform="translate(712.31,282.85) rotate(-90)" font-size="21.6" text-anchor="middle">power (TPR)</text>
<rect x="1095.50" y="204.50" width="278.00" height="157.00" fill="none" stroke="#000" stroke-width="1"/>
<line x1="1092.50" y1="355.50" x2="1095.50" y2="355.50" stroke="#000" stroke-width="1"/>
<text transform="translate(1090.59,363.60) scale(1,1.08)" font-size="21.9" text-anchor="end">0.0</text>
<line x1="1092.50" y1="282.50" x2="1095.50" y2="282.50" stroke="#000" stroke-width="1"/>
<text transform="translate(1090.59,291.10) scale(1,1.08)" font-size="21.9" text-anchor="end">0.5</text>
<line x1="1092.50" y1="210.50" x2="1095.50" y2="210.50" stroke="#000" stroke-width="1"/>
<text transform="translate(1090.59,218.60) scale(1,1.08)" font-size="21.9" text-anchor="end">1.0</text>
<line x1="1108.50" y1="361.50" x2="1108.50" y2="364.50" stroke="#000" stroke-width="1"/>
<line x1="1158.50" y1="361.50" x2="1158.50" y2="364.50" stroke="#000" stroke-width="1"/>
<line x1="1209.50" y1="361.50" x2="1209.50" y2="364.50" stroke="#000" stroke-width="1"/>
<line x1="1260.50" y1="361.50" x2="1260.50" y2="364.50" stroke="#000" stroke-width="1"/>
<line x1="1310.50" y1="361.50" x2="1310.50" y2="364.50" stroke="#000" stroke-width="1"/>
<line x1="1361.50" y1="361.50" x2="1361.50" y2="364.50" stroke="#000" stroke-width="1"/>
<text transform="translate(1055.59,282.85) rotate(-90)" font-size="21.6" text-anchor="middle">type I error (FPR)</text>
<text transform="translate(77.91,381.5) scale(1,1.08)" font-size="21.9" text-anchor="middle">10<tspan dy="-8.5" font-size="15.2">2</tspan></text>
<text transform="translate(162.31,381.5) scale(1,1.08)" font-size="21.9" text-anchor="middle">10<tspan dy="-8.5" font-size="15.2">3</tspan></text>
<text transform="translate(246.71,381.5) scale(1,1.08)" font-size="21.9" text-anchor="middle">10<tspan dy="-8.5" font-size="15.2">4</tspan></text>
<text transform="translate(331.11,381.5) scale(1,1.08)" font-size="21.9" text-anchor="middle">10<tspan dy="-8.5" font-size="15.2">5</tspan></text>
<text transform="translate(421.19,381.5) scale(1,1.08)" font-size="21.9" text-anchor="middle">10<tspan dy="-8.5" font-size="15.2">2</tspan></text>
<text transform="translate(505.59,381.5) scale(1,1.08)" font-size="21.9" text-anchor="middle">10<tspan dy="-8.5" font-size="15.2">3</tspan></text>
<text transform="translate(589.99,381.5) scale(1,1.08)" font-size="21.9" text-anchor="middle">10<tspan dy="-8.5" font-size="15.2">4</tspan></text>
<text transform="translate(674.39,381.5) scale(1,1.08)" font-size="21.9" text-anchor="middle">10<tspan dy="-8.5" font-size="15.2">5</tspan></text>
<text transform="translate(764.97,381.5) scale(1,1.08)" font-size="21.9" text-anchor="middle">100</text>
<text transform="translate(815.61,381.5) scale(1,1.08)" font-size="21.9" text-anchor="middle">500</text>
<text transform="translate(866.25,381.5) scale(1,1.08)" font-size="21.9" text-anchor="middle">1000</text>
<text transform="translate(916.89,381.5) scale(1,1.08)" font-size="21.9" text-anchor="middle">2000</text>
<text transform="translate(967.53,381.5) scale(1,1.08)" font-size="21.9" text-anchor="middle">5000</text>
<text transform="translate(1017.67,381.5) scale(1,1.08)" font-size="21.9" text-anchor="middle">10<tspan dy="-8.5" font-size="15.2">4</tspan></text>
<text transform="translate(1108.25,381.5) scale(1,1.08)" font-size="21.9" text-anchor="middle">100</text>
<text transform="translate(1158.89,381.5) scale(1,1.08)" font-size="21.9" text-anchor="middle">500</text>
<text transform="translate(1209.53,381.5) scale(1,1.08)" font-size="21.9" text-anchor="middle">1000</text>
<text transform="translate(1260.17,381.5) scale(1,1.08)" font-size="21.9" text-anchor="middle">2000</text>
<text transform="translate(1310.81,381.5) scale(1,1.08)" font-size="21.9" text-anchor="middle">5000</text>
<text transform="translate(1360.95,381.5) scale(1,1.08)" font-size="21.9" text-anchor="middle">10<tspan dy="-8.5" font-size="15.2">4</tspan></text>
<text x="130.15" y="407.30" font-size="21.6" font-style="italic">N</text>
<text x="144.95" y="409.60" font-size="15">train</text>
<text x="178.55" y="407.30" font-size="21.6">(</text>
<text x="186.55" y="407.30" font-size="21.6" font-style="italic">N</text>
<text x="200.45" y="409.60" font-size="15">cal</text>
<rect x="224.20" y="398.6" width="12.6" height="1.2" fill="#000"/>
<rect x="224.20" y="403.2" width="12.6" height="1.2" fill="#000"/>
<text x="242.60" y="407.30" font-size="21.6">10</text>
<text x="263.60" y="399.30" font-size="15">4</text>
<text x="271.90" y="407.30" font-size="21.6">)</text>
<text x="473.43" y="407.30" font-size="21.6" font-style="italic">N</text>
<text x="488.23" y="409.60" font-size="15">train</text>
<text x="521.83" y="407.30" font-size="21.6">(</text>
<text x="529.83" y="407.30" font-size="21.6" font-style="italic">N</text>
<text x="543.73" y="409.60" font-size="15">cal</text>
<rect x="567.48" y="398.6" width="12.6" height="1.2" fill="#000"/>
<rect x="567.48" y="403.2" width="12.6" height="1.2" fill="#000"/>
<text x="585.88" y="407.30" font-size="21.6">10</text>
<text x="606.88" y="399.30" font-size="15">4</text>
<text x="615.18" y="407.30" font-size="21.6">)</text>
<text x="816.71" y="407.30" font-size="21.6" font-style="italic">N</text>
<text x="830.51" y="409.60" font-size="15">cal</text>
<text x="855.11" y="407.30" font-size="21.6">(</text>
<text x="863.21" y="407.30" font-size="21.6" font-style="italic">N</text>
<text x="876.91" y="409.60" font-size="15">train</text>
<rect x="910.76" y="398.6" width="12.6" height="1.2" fill="#000"/>
<rect x="910.76" y="403.2" width="12.6" height="1.2" fill="#000"/>
<text x="929.16" y="407.30" font-size="21.6">10</text>
<text x="950.16" y="399.30" font-size="15">3</text>
<text x="958.46" y="407.30" font-size="21.6">)</text>
<text x="1159.99" y="407.30" font-size="21.6" font-style="italic">N</text>
<text x="1173.79" y="409.60" font-size="15">cal</text>
<text x="1198.39" y="407.30" font-size="21.6">(</text>
<text x="1206.49" y="407.30" font-size="21.6" font-style="italic">N</text>
<text x="1220.19" y="409.60" font-size="15">train</text>
<rect x="1254.04" y="398.6" width="12.6" height="1.2" fill="#000"/>
<rect x="1254.04" y="403.2" width="12.6" height="1.2" fill="#000"/>
<text x="1272.44" y="407.30" font-size="21.6">10</text>
<text x="1293.44" y="399.30" font-size="15">3</text>
<text x="1301.74" y="407.30" font-size="21.6">)</text>
<text x="688.5" y="196.2" font-size="25.5" font-weight="bold" text-anchor="middle">Two Moons</text>
<line x1="245.1" y1="26.5" x2="279.7" y2="26.5" stroke="#000" stroke-width="1" stroke-dasharray="3,2.2"/>
<text x="292.8" y="31.7" font-size="17.3" font-style="italic">t</text>
<rect x="302" y="20.0" width="1.1" height="14.7" fill="#000"/>
<g transform="translate(308.1,20.3)" fill="none" stroke="#000" stroke-linecap="round"><path d="M0.1,2.5 C1.2,1.0 3.0,0.2 4.9,0.4" stroke-width="1.0"/><path d="M4.9,0.4 C4.4,4.0 2.6,9.6 0.5,11.3" stroke-width="1.5"/><path d="M4.2,5.0 L10.4,5.0" stroke-width="0.8"/><path d="M13.5,0.3 C12.0,3.0 9.2,7.8 8.1,10.0 C7.7,11.0 8.6,11.8 9.7,11.6 C10.6,11.4 11.4,10.9 12.0,10.5" stroke-width="1.5"/></g>
<text x="321.7" y="34.4" font-size="12.3">0</text>
<line x1="245.1" y1="227.5" x2="279.7" y2="227.5" stroke="#000" stroke-width="1" stroke-dasharray="3,2.2"/>
<text x="292.8" y="232.6" font-size="17.3" font-style="italic">t</text>
<rect x="302" y="220.9" width="1.1" height="14.7" fill="#000"/>
<g transform="translate(308.1,221.2)" fill="none" stroke="#000" stroke-linecap="round"><path d="M0.1,2.5 C1.2,1.0 3.0,0.2 4.9,0.4" stroke-width="1.0"/><path d="M4.9,0.4 C4.4,4.0 2.6,9.6 0.5,11.3" stroke-width="1.5"/><path d="M4.2,5.0 L10.4,5.0" stroke-width="0.8"/><path d="M13.5,0.3 C12.0,3.0 9.2,7.8 8.1,10.0 C7.7,11.0 8.6,11.8 9.7,11.6 C10.6,11.4 11.4,10.9 12.0,10.5" stroke-width="1.5"/></g>
<text x="321.7" y="235.3" font-size="12.3">0</text>
<line x1="1227.1" y1="26.5" x2="1262.5" y2="26.5" stroke="#000" stroke-width="1" stroke-dasharray="3,2.2"/>
<text x="1276.1" y="31.8" font-size="17"><tspan font-style="italic">α</tspan>-level: 0.05</text>
<rect x="1100.6" y="228.7" width="268.8" height="71.7" rx="3" fill="#fff" fill-opacity="0.8" stroke="#d0d0d0" stroke-width="1"/>
<line x1="1104.3" y1="237.5" x2="1138.9" y2="237.5" stroke="#808080" stroke-width="1.5"/>
<circle cx="1120.8" cy="237.5" r="3.6" fill="#808080"/>
<text x="1147.6" y="243.5" font-size="17.3" text-anchor="middle">/</text>
<line x1="1154.4" y1="237.5" x2="1189.8" y2="237.5" stroke="#808080" stroke-width="1.5"/>
<g fill="#808080"><polygon points="1172.30,231.40 1176.20,237.50 1172.30,243.60 1168.40,237.50"/></g>
<text x="1197.2" y="244.3" font-size="17.3">oracle C2ST (<tspan font-style="italic">t̂</tspan><tspan font-size="12" dy="3">MSE</tspan><tspan dy="-3" dx="1">&#160;/&#160;</tspan><tspan font-style="italic">t̂</tspan><tspan font-size="12.5" dy="3" font-style="italic">Acc</tspan><tspan dy="-3" dx="1">)</tspan></text>
<line x1="1104.3" y1="262.9" x2="1138.9" y2="262.9" stroke="#0000ff" stroke-width="1.5"/>
<circle cx="1120.8" cy="262.9" r="3.6" fill="#0000ff"/>
<text x="1147.6" y="268.9" font-size="17.3" text-anchor="middle">/</text>
<line x1="1154.4" y1="262.9" x2="1189.8" y2="262.9" stroke="#0000ff" stroke-width="1.5" stroke-dasharray="5.5,2.4"/>
<g fill="#0000ff"><polygon points="1171.70,256.00 1173.40,260.56 1178.26,260.77 1174.46,263.80 1175.76,268.48 1171.70,265.80 1167.64,268.48 1168.94,263.80 1165.14,260.77 1170.00,260.56"/></g>
<text x="1198" y="268.5" font-size="17.3"><tspan font-style="italic">ℓ</tspan>-C2ST<tspan dx="5.5">/</tspan><tspan dx="6">-NF (</tspan><tspan font-style="italic">t̂</tspan><tspan font-size="12" dy="3">MSE</tspan><tspan font-size="8" dy="2">0</tspan><tspan dy="-5" dx="1">)</tspan></text>
<line x1="1149.0" y1="285.6" x2="1184.0" y2="285.6" stroke="#ffa500" stroke-width="1.5"/>
<g fill="#ffa500"><polygon points="1166.10,280.40 1171.04,288.82 1161.16,288.82"/></g>
<text x="1197.5" y="291.1" font-size="17.3" textLength="71.5" lengthAdjust="spacingAndGlyphs"><tspan font-style="italic">local</tspan>-HPD</text>
</svg></body></html>
